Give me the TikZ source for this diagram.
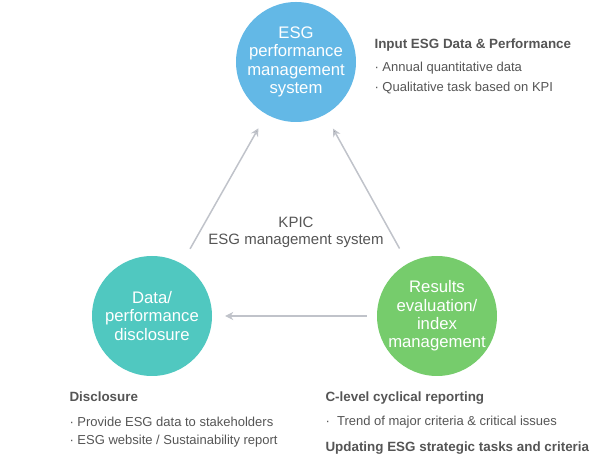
\documentclass[tikz,border=0pt]{standalone}
\usepackage{fontspec}
\setmainfont{Liberation Sans}
\usepackage{tikz}
\usetikzlibrary{arrows.meta}
\definecolor{esgblue}{RGB}{99,184,230}
\definecolor{esgteal}{RGB}{80,200,192}
\definecolor{esggreen}{RGB}{118,204,108}
\definecolor{flowgray}{RGB}{192,195,202}
\definecolor{txtgray}{RGB}{85,85,85}
\begin{document}
\begin{tikzpicture}[x=1pt, y=1pt,
		stage/.style={circle, minimum size=120pt, inner sep=0pt, text=white, align=center, font=\fontsize{16.7}{18.3}\selectfont},
		flow/.style={draw=flowgray, line width=1.5pt, -{Stealth[length=8pt,width=8pt]}},
		head/.style={anchor=west, text=txtgray, font=\fontsize{13.4}{15}\selectfont\bfseries},
		item/.style={anchor=west, text=txtgray, font=\fontsize{13}{15}\selectfont}]
			\useasboundingbox (0,0) rectangle (590,460);
			\node[stage, fill=esgblue] (top) at (296,398) {ESG\\performance\\management\\system};
			\node[stage, fill=esgteal] (left) at (152,144) {Data/\\performance\\disclosure};
			\node[stage, fill=esggreen] (right) at (437,144) {Results\\evaluation/\\index\\management};
			\node[text=txtgray, align=center, font=\fontsize{15}{17}\selectfont] (core) at (296,228) {KPIC\\ESG management system};
			\path[flow]
			(left) edge[shorten <=17pt, shorten >=16pt] (top)
			(right) edge[shorten <=17pt, shorten >=16pt] (top)
			(right) edge[shorten <=10pt, shorten >=13pt] (left);
			\node[head] (inhead) at (371,415) {Input ESG Data \& Performance};
			\node[item] (in1) at (371,392) {· Annual quantitative data};
			\node[item] (in2) at (371,372) {· Qualitative task based on KPI};
			\node[head] (dishead) at (66,63) {Disclosure};
			\node[item] (dis1) at (66,38) {· Provide ESG data to stakeholders};
			\node[item] (dis2) at (66,19) {· ESG website / Sustainability report};
			\node[head] (rephead) at (322,62) {C-level cyclical reporting};
			\node[item] (rep1) at (322,38) {·\ \ Trend of major criteria \& critical issues};
			\node[head] (updhead) at (322,12) {Updating ESG strategic tasks and criteria};
		\end{tikzpicture}
\end{document}
